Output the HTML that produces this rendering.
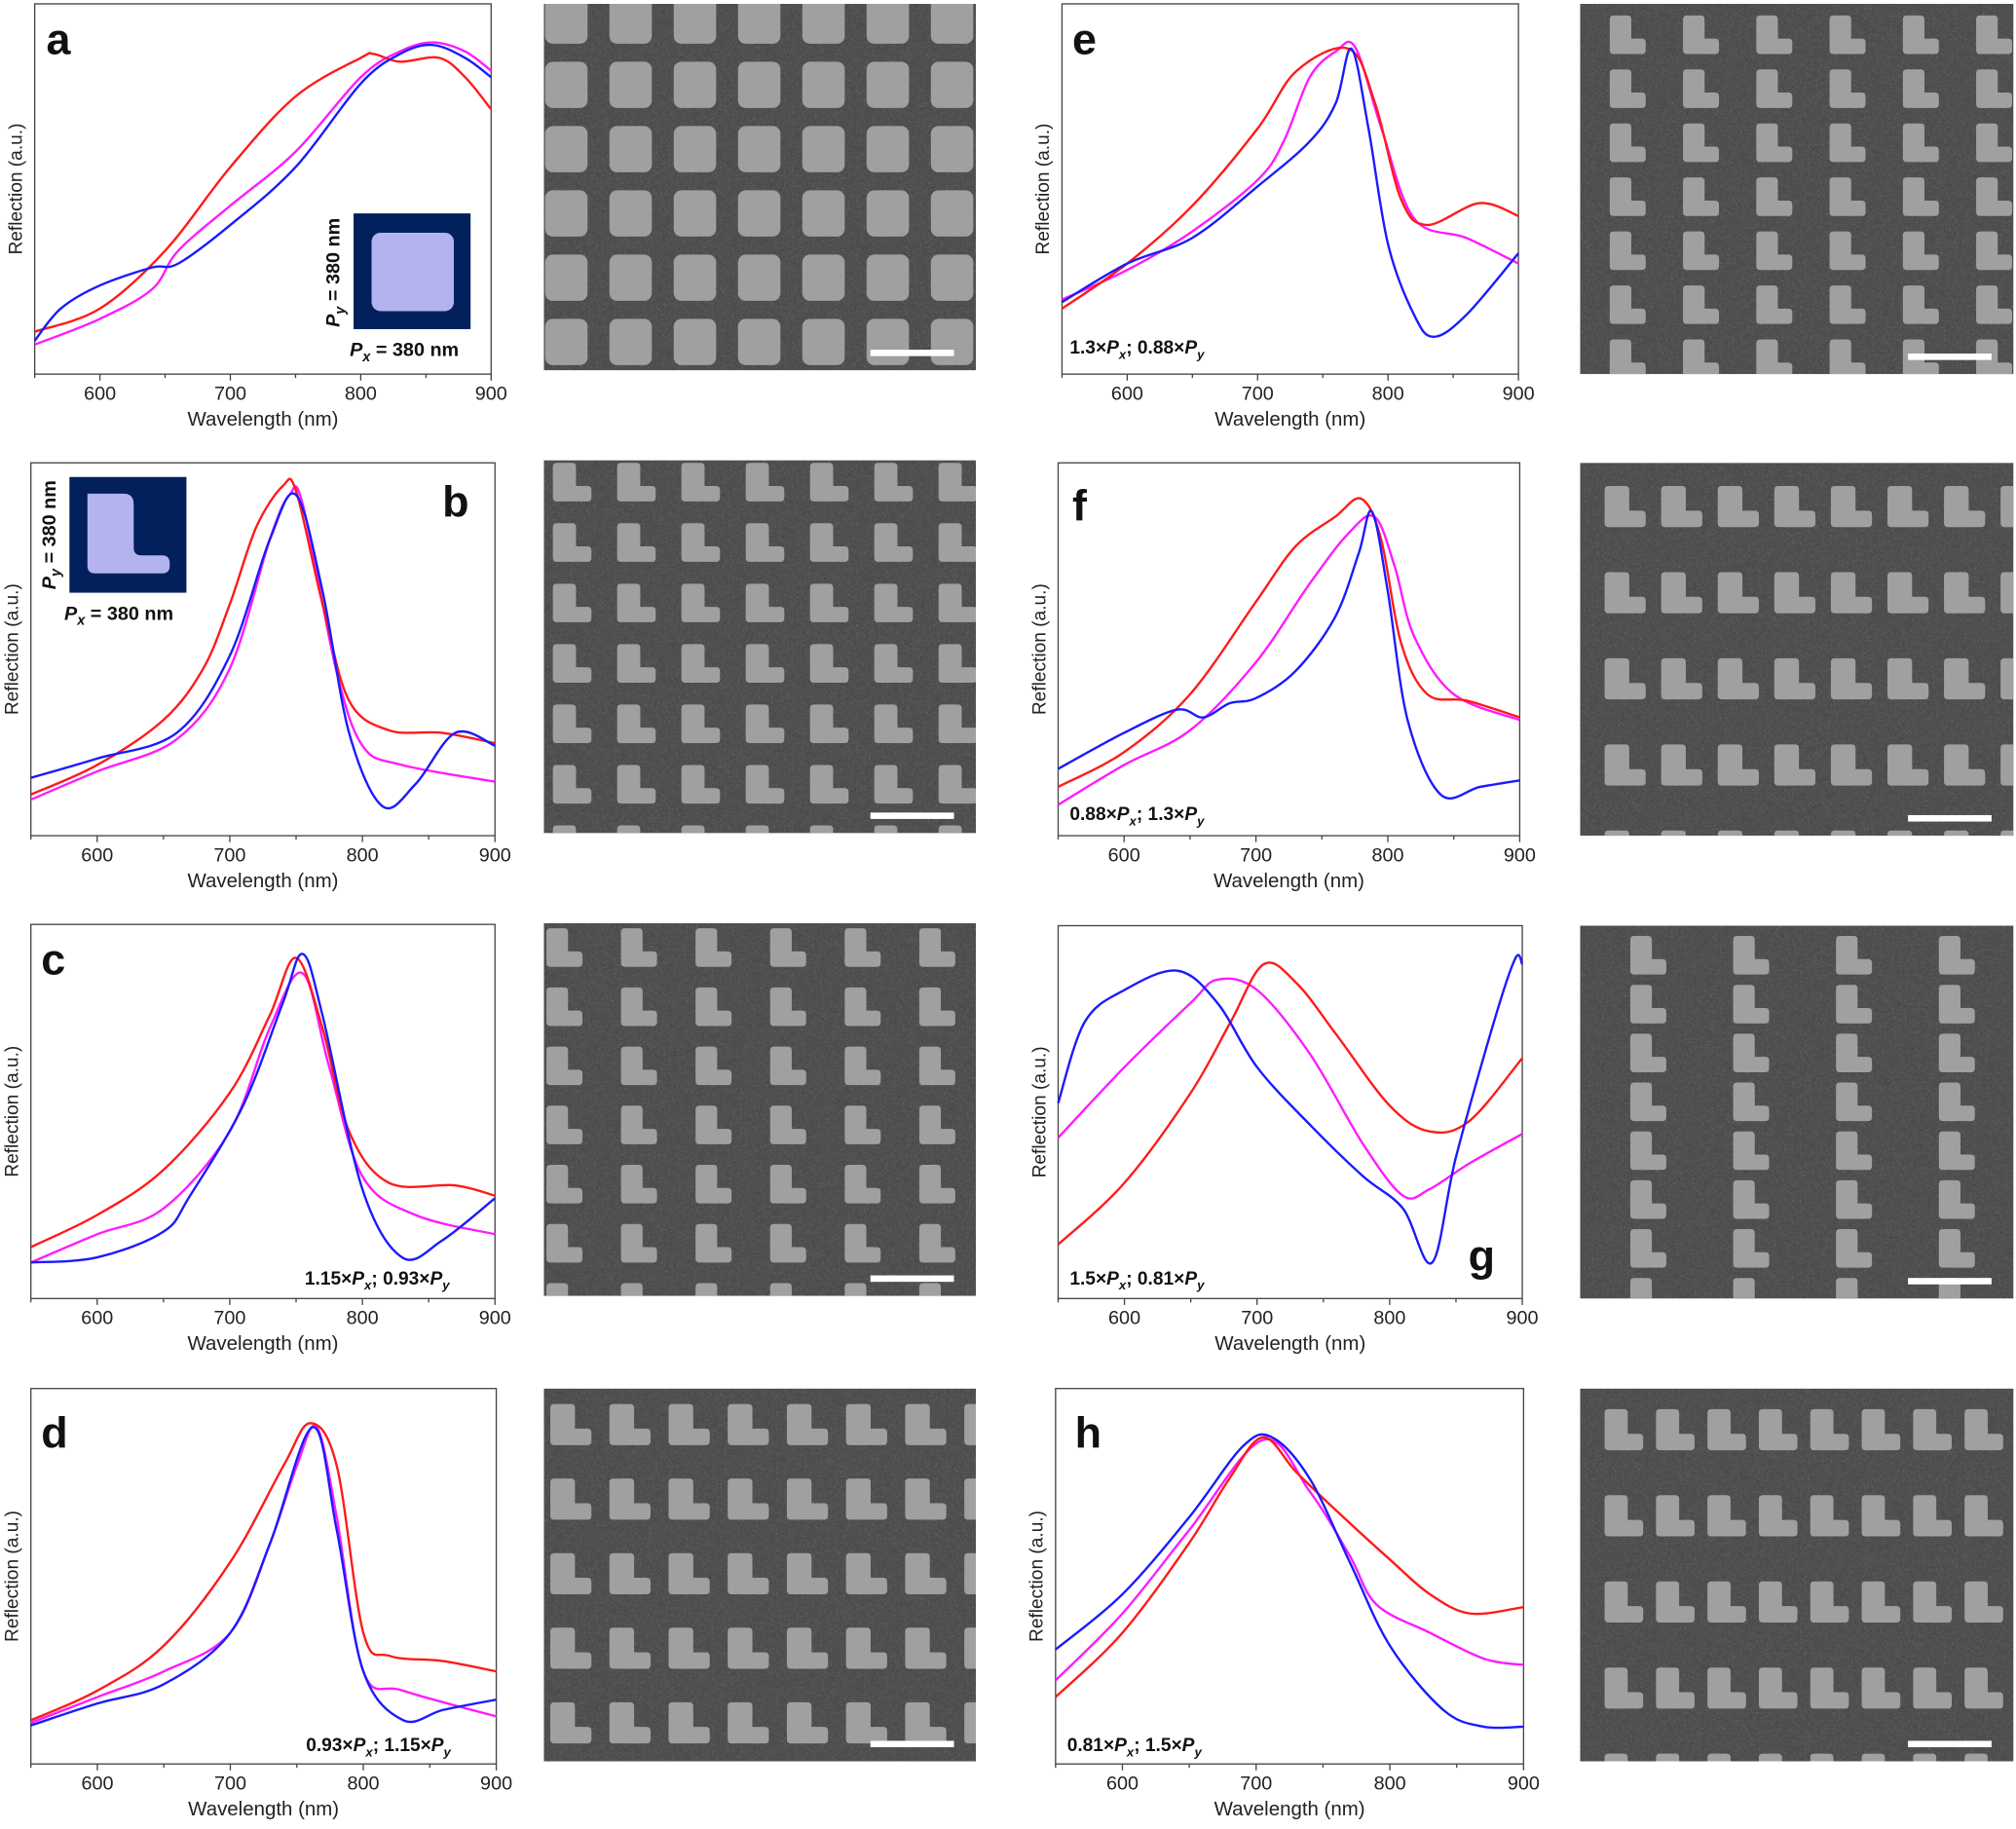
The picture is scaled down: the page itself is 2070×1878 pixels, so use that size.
<!DOCTYPE html>
<html><head><meta charset="utf-8"><style>
html,body{margin:0;padding:0;background:#fff}
svg{display:block}
text{font-family:"Liberation Sans",sans-serif}
</style></head><body>
<svg id="s" width="2070" height="1878" viewBox="0 0 1568 1422.6" preserveAspectRatio="none" xmlns="http://www.w3.org/2000/svg">
<defs><filter id="n"><feTurbulence baseFrequency="0.5" numOctaves="2" seed="3"/><feColorMatrix values="0 0 0 0 0.23 0 0 0 0 0.23 0 0 0 0 0.23 0 0 0 0.5 0"/></filter></defs>
</svg>
<script>
const S=document.getElementById('s');const NS='http://www.w3.org/2000/svg';
function el(t,a,txt){const e=document.createElementNS(NS,t);for(const k in a)e.setAttribute(k,a[k]);if(txt!==undefined)e.innerHTML=txt;S.appendChild(e);return e;}
function spline(p){let d='M'+p[0][0].toFixed(1)+','+p[0][1].toFixed(1);for(let i=0;i<p.length-1;i++){const a=p[i-1]||p[i],b=p[i],c=p[i+1],e=p[i+2]||c;d+=' C'+(b[0]+(c[0]-a[0])/6).toFixed(1)+','+(b[1]+(c[1]-a[1])/6).toFixed(1)+' '+(c[0]-(e[0]-b[0])/6).toFixed(1)+','+(c[1]-(e[1]-b[1])/6).toFixed(1)+' '+c[0].toFixed(1)+','+c[1].toFixed(1);}return d;}
const P=[
{b:[27,382,3,291],L:'a',lx:36,ly:42,
R:[[550,258],[600,240],[650,195],[700,130],[750,75],[800,45],[810,42],[830,48],[860,45],[880,60],[900,85]],
M:[[550,268],[600,248],[640,225],[660,195],[700,160],[750,118],[800,60],[830,40],[855,33],[880,40],[900,55]],
B:[[550,265],[570,240],[600,222],[640,208],[660,205],[700,175],[750,130],[800,65],[830,42],[855,35],[880,45],[900,60]]},
{b:[24,385,360,650],L:'b',lx:344,ly:402,
R:[[550,618],[600,595],[650,560],[680,520],[700,470],[720,410],[740,378],[750,382],[770,470],[790,545],[820,568],[860,570],[900,578]],
M:[[550,622],[600,600],[660,575],[700,520],[730,420],[745,385],[755,392],[780,520],[800,580],[830,595],[900,608]],
B:[[550,605],[600,590],[660,570],[700,510],[730,420],[750,385],[770,460],[790,570],[815,627],[840,610],[870,570],[900,580]]},
{b:[24,385,719,1010],L:'c',lx:32,ly:758,
R:[[550,970],[600,945],[650,910],[700,850],[730,790],[750,745],[770,800],[790,880],[820,920],[870,922],[900,930]],
M:[[550,982],[600,960],[650,940],[700,880],[730,800],[755,757],[775,830],[800,915],[840,945],[900,960]],
B:[[550,982],[600,978],[650,958],[670,930],[710,860],[740,780],[755,742],[770,790],[800,925],[830,978],[860,965],[900,932]],
note:'1.15×<tspan font-style="italic">P</tspan><tspan font-size="10" font-style="italic" dy="4">x</tspan><tspan dy="-4">; 0.93×</tspan><tspan font-style="italic">P</tspan><tspan font-size="10" font-style="italic" dy="4">y</tspan>',nx:237,ny:999},
{b:[24,386,1080,1372],L:'d',lx:32,ly:1126,
R:[[550,1338],[600,1315],[650,1280],[700,1215],[740,1140],[760,1107],[780,1140],[800,1270],[820,1288],[860,1292],[900,1300]],
M:[[550,1340],[600,1320],[650,1300],[700,1270],[730,1200],[750,1140],[765,1110],[780,1180],[800,1300],[830,1315],[900,1335]],
B:[[550,1342],[600,1325],[650,1310],[700,1270],[730,1200],[762,1110],[780,1190],[800,1300],[830,1338],[860,1330],[900,1322]],
note:'0.93×<tspan font-style="italic">P</tspan><tspan font-size="10" font-style="italic" dy="4">x</tspan><tspan dy="-4">; 1.15×</tspan><tspan font-style="italic">P</tspan><tspan font-size="10" font-style="italic" dy="4">y</tspan>',nx:238,ny:1362},
{b:[826,1181,3,291],L:'e',lx:834,ly:42,
R:[[550,240],[600,205],[650,160],[700,100],[730,55],[770,38],[790,80],[810,155],[830,175],[870,158],[900,168]],
M:[[550,233],[600,210],[650,180],[700,140],[720,110],[740,60],[760,40],[775,37],[795,100],[820,170],[860,185],[900,205]],
B:[[550,235],[600,205],[650,185],[700,145],[740,110],[760,80],[772,38],[785,100],[800,190],[820,245],[835,262],[860,245],[900,197]],
note:'1.3×<tspan font-style="italic">P</tspan><tspan font-size="10" font-style="italic" dy="4">x</tspan><tspan dy="-4">; 0.88×</tspan><tspan font-style="italic">P</tspan><tspan font-size="10" font-style="italic" dy="4">y</tspan>',nx:832,ny:275},
{b:[823,1182,360,650],L:'f',lx:834,ly:405,
R:[[550,612],[600,585],[650,540],[700,468],[730,425],[760,402],[780,388],[795,420],[810,500],[830,540],[860,545],[900,558]],
M:[[550,626],[600,595],[650,568],[700,515],[740,455],[770,415],[790,402],[805,440],[820,495],[850,540],[900,560]],
B:[[550,598],[600,570],[640,552],[660,558],[680,547],[700,543],[730,522],[760,480],[778,430],[788,398],[800,460],[815,560],[840,618],[870,612],[900,607]],
note:'0.88×<tspan font-style="italic">P</tspan><tspan font-size="10" font-style="italic" dy="4">x</tspan><tspan dy="-4">; 1.3×</tspan><tspan font-style="italic">P</tspan><tspan font-size="10" font-style="italic" dy="4">y</tspan>',nx:832,ny:638},
{b:[823,1184,720,1010],L:'g',lx:1142,ly:988,
R:[[550,968],[600,920],[650,850],[680,795],[705,750],[730,765],[760,805],[800,860],[830,880],[860,872],[900,823]],
M:[[550,885],[600,830],[650,780],[670,762],[700,770],[740,820],[780,890],[810,930],[830,925],[860,905],[900,882]],
B:[[550,858],[570,795],[600,770],[640,755],[670,780],[700,830],[740,875],[780,915],[810,940],[832,982],[850,900],[880,790],[895,745],[900,750]],
note:'1.5×<tspan font-style="italic">P</tspan><tspan font-size="10" font-style="italic" dy="4">x</tspan><tspan dy="-4">; 0.81×</tspan><tspan font-style="italic">P</tspan><tspan font-size="10" font-style="italic" dy="4">y</tspan>',nx:832,ny:999},
{b:[821,1185,1080,1372],L:'h',lx:836,ly:1126,
R:[[550,1320],[600,1270],[650,1200],[680,1150],[705,1118],[730,1145],[760,1175],[800,1213],[830,1240],[860,1255],[900,1250]],
M:[[550,1307],[600,1255],[650,1190],[705,1120],[740,1160],[770,1210],[790,1248],[830,1270],[870,1290],[900,1295]],
B:[[550,1283],[600,1240],[650,1180],[690,1125],[712,1118],[740,1150],[770,1215],[800,1280],[840,1330],[870,1343],[900,1343]],
note:'0.81×<tspan font-style="italic">P</tspan><tspan font-size="10" font-style="italic" dy="4">x</tspan><tspan dy="-4">; 1.5×</tspan><tspan font-style="italic">P</tspan><tspan font-size="10" font-style="italic" dy="4">y</tspan>',nx:830,ny:1362}
];
for(const p of P){const [x0,x1,y0,y1]=p.b;const X=w=>x0+(w-550)/350*(x1-x0);
 el('rect',{x:x0,y:y0,width:x1-x0,height:y1-y0,fill:'#fff',stroke:'#444','stroke-width':1});
 const order=[['M','#ff1aff'],['R','#ff1a1a'],['B','#1a1aff']];
 for(const [k,c] of order)el('path',{d:spline(p[k].map(q=>[X(q[0]),q[1]])),fill:'none',stroke:c,'stroke-width':1.8});
 for(let w=550;w<=900;w+=50){el('line',{x1:X(w),x2:X(w),y1:y1,y2:y1+(w%100?3:5),stroke:'#444','stroke-width':1});}
 for(let w=600;w<=900;w+=100)el('text',{x:X(w),y:y1+20,'font-size':15,'text-anchor':'middle',fill:'#222'},w);
 el('text',{x:(x0+x1)/2,y:y1+40,'font-size':15.5,'text-anchor':'middle',fill:'#222'},'Wavelength (nm)');
 const cy=(y0+y1)/2;el('text',{x:x0-10,y:cy,'font-size':14.5,'text-anchor':'middle',fill:'#222',transform:`rotate(-90 ${x0-10} ${cy})`},'Reflection (a.u.)');
 el('text',{x:p.lx,y:p.ly,'font-size':34,'font-weight':'bold',fill:'#111'},p.L);
 if(p.note)el('text',{x:p.nx,y:p.ny,'font-size':14.5,'font-weight':'bold',fill:'#111'},p.note);
}
el('rect',{x:275,y:166,width:91,height:90,fill:'#02205c'});
el('rect',{x:289,y:181,width:64,height:61,rx:7,fill:'#b3b3f0'});
el('text',{x:264,y:212,'font-size':15,'font-weight':'bold','text-anchor':'middle',fill:'#111',transform:'rotate(-90 264 212)'},'<tspan font-style="italic">P</tspan><tspan font-size="11" font-style="italic" dy="4">y</tspan><tspan dy="-4"> = 380 nm</tspan>');
el('text',{x:272,y:277,'font-size':15,'font-weight':'bold',fill:'#111'},'<tspan font-style="italic">P</tspan><tspan font-size="11" font-style="italic" dy="4">x</tspan><tspan dy="-4"> = 380 nm</tspan>');
el('rect',{x:54,y:371,width:91,height:90,fill:'#02205c'});
el('path',{d:'M68,384 L96,384 Q104,384 104,392 L104,426 Q104,432 110,432 L126,432 Q132,432 132,438 L132,440 Q132,446 126,446 L74,446 Q68,446 68,440 Z',fill:'#b3b3f0'});
el('text',{x:43,y:416,'font-size':15,'font-weight':'bold','text-anchor':'middle',fill:'#111',transform:'rotate(-90 43 416)'},'<tspan font-style="italic">P</tspan><tspan font-size="11" font-style="italic" dy="4">y</tspan><tspan dy="-4"> = 380 nm</tspan>');
el('text',{x:50,y:482,'font-size':15,'font-weight':'bold',fill:'#111'},'<tspan font-style="italic">P</tspan><tspan font-size="11" font-style="italic" dy="4">x</tspan><tspan dy="-4"> = 380 nm</tspan>');
const SEM=[
{r:[423,759,3,288],sq:1,w:33,h:36,dx:50,dy:50,ox:424,oy:-2},
{r:[423,759,358,648],w:30,h:30,dx:50,dy:47,ox:430,oy:360},
{r:[423,759,718,1008],w:28,h:30,dx:58,dy:46,ox:425,oy:722},
{r:[423,759,1080,1370],w:32,h:32,dx:46,dy:58,ox:428,oy:1092},
{r:[1229,1566,3,291],w:28,h:30,dx:57,dy:42,ox:1252,oy:12},
{r:[1229,1566,360,650],w:32,h:32,dx:44,dy:67,ox:1248,oy:378},
{r:[1229,1566,720,1010],w:28,h:30,dx:80,dy:38,ox:1268,oy:728},
{r:[1229,1566,1080,1370],w:30,h:32,dx:40,dy:67,ox:1248,oy:1096}
];
for(const s of SEM){const [x0,x1,y0,y1]=s.r;
 const cid='c'+x0+y0;
 const cp=el('clipPath',{id:cid});const cr=document.createElementNS(NS,'rect');cr.setAttribute('x',x0);cr.setAttribute('y',y0);cr.setAttribute('width',x1-x0);cr.setAttribute('height',y1-y0);cp.appendChild(cr);
 const gg=el('g',{'clip-path':`url(#${cid})`});
 const add=(t,a)=>{const e=document.createElementNS(NS,t);for(const k in a)e.setAttribute(k,a[k]);gg.appendChild(e);};
 add('rect',{x:x0,y:y0,width:x1-x0,height:y1-y0,fill:'#484848'});
 add('rect',{x:x0,y:y0,width:x1-x0,height:y1-y0,filter:'url(#n)'});
 for(let y=s.oy;y<y1;y+=s.dy)for(let x=s.ox;x<x1;x+=s.dx){
  if(s.sq)add('rect',{x:x,y:y,width:s.w,height:s.h,rx:6,fill:'#a0a0a0'});
  else{const w=s.w,h=s.h,a=w*0.6,f=h*0.6;
   add('path',{d:`M${x+3},${y} L${x+a-3},${y} Q${x+a},${y} ${x+a},${y+3} L${x+a},${y+f} L${x+w-3},${y+f} Q${x+w},${y+f} ${x+w},${y+f+3} L${x+w},${y+h-3} Q${x+w},${y+h} ${x+w-3},${y+h} L${x+3},${y+h} Q${x},${y+h} ${x},${y+h-3} L${x},${y+3} Q${x},${y} ${x+3},${y} Z`,fill:'#a0a0a0'});}
 }
 add('rect',{x:x1-82,y:y1-16,width:65,height:5,fill:'#fff'});
}
</script>
</body></html>
